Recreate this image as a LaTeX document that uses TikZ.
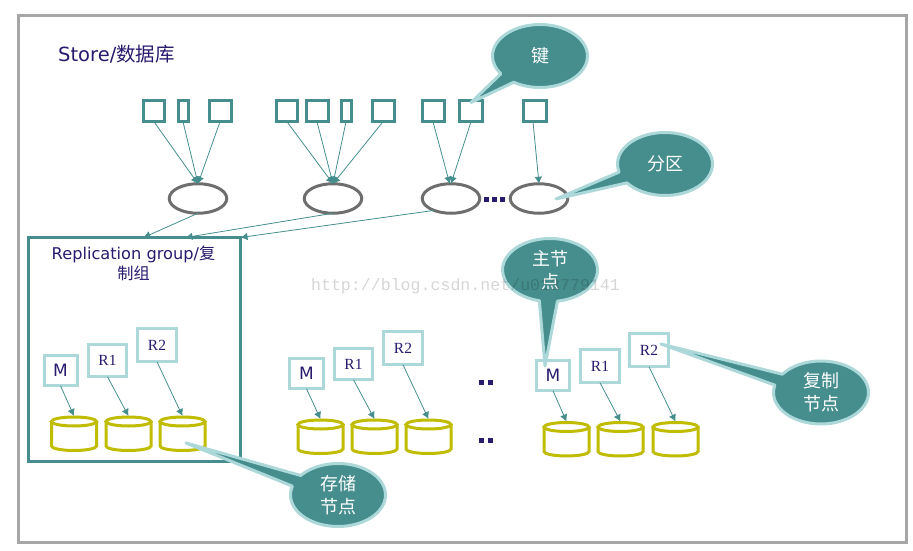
\documentclass[tikz,border=0pt]{standalone}
\usepackage{fontspec}
\setmainfont{DejaVu Sans}
\newfontfamily\cjk{Noto Sans CJK SC}
\newfontfamily\rmtext{Liberation Serif}
\newfontfamily\marktext{Liberation Mono}
\usetikzlibrary{calc}
\usetikzlibrary{arrows.meta}
\usetikzlibrary{shapes.geometric}
\usetikzlibrary{shapes.callouts}
\definecolor{teal1}{HTML}{468E8E}
\definecolor{pale1}{HTML}{ACD8DA}
\definecolor{ink1}{HTML}{2A1A6E}
\definecolor{olive1}{HTML}{C0BC00}
\begin{document}
\begin{tikzpicture}[x=1pt, y=-1pt,
    keybox/.style={draw=teal1, line width=3pt, minimum height=21.5pt, inner sep=0pt, outer sep=0pt},
    part/.style={ellipse, draw=black!57, line width=3pt, minimum width=57.5pt, minimum height=29.5pt, inner sep=0pt, outer sep=0pt},
    arr/.style={draw=teal1, line width=0.8pt, -{Latex[length=7pt, width=7.5pt]}},
    node1/.style={draw=pale1, line width=3pt, inner sep=0pt, outer sep=0pt, text=ink1, fill=white},
    note/.style={ellipse callout, draw=pale1, fill=teal1, line width=3pt, line join=round, text=white, minimum width=95pt, minimum height=63pt, inner sep=0pt, outer sep=0pt, align=center, callout pointer arc=22, font=\cjk\fontsize{18}{23}\selectfont},
    dot1/.style={fill=ink1, minimum size=5pt, inner sep=0pt, outer sep=0pt},
    disk/.pic={
      \node[inner sep=0pt, outer sep=0pt, minimum width=45pt, minimum height=36pt] (-body) at (0,0) {};
      \draw[draw=olive1, line width=3pt] (0,-12.5) ellipse [x radius=22.5, y radius=4.5];
      \draw[draw=olive1, line width=3pt] (-22.5,-12.5) -- (-22.5,12) arc [start angle=180, end angle=0, x radius=22.5, y radius=4.5] -- (22.5,-12.5);
    }]
  \useasboundingbox (0,0) rectangle (913,551);
  \node[draw=black!35, line width=3pt, minimum width=888pt, minimum height=526.5pt, anchor=north west, inner sep=0pt, outer sep=0pt] (store) at (18,15.5) {};
  \node[text=ink1, anchor=west, inner sep=0pt, font=\fontsize{19.5}{23}\selectfont] (title) at (58,54) {Store/{\cjk 数据库}};

  % keys
  \node[keybox, minimum width=21.5pt] (k1) at (154,111) {};
  \node[keybox, minimum width=10pt] (k2) at (183,111) {};
  \node[keybox, minimum width=22pt] (k3) at (220,111) {};
  \node[keybox, minimum width=21pt] (k4) at (287,111) {};
  \node[keybox, minimum width=22pt] (k5) at (317,111) {};
  \node[keybox, minimum width=10pt] (k6) at (346,111) {};
  \node[keybox, minimum width=22pt] (k7) at (383,111) {};
  \node[keybox, minimum width=22pt] (k8) at (433,111) {};
  \node[keybox, minimum width=22.5pt] (k9) at (471,111) {};
  \node[keybox, minimum width=22.5pt] (k10) at (535,111) {};

  % partitions
  \node[part] (e1) at (198,198.5) {};
  \node[part] (e2) at (333,198.5) {};
  \node[part] (e3) at (451,198.5) {};
  \node[part] (e4) at (539,198.5) {};
  \node[dot1] (d1) at (486.5,199) {};
  \node[dot1] (d2) at (494.5,199) {};
  \node[dot1] (d3) at (502.5,199) {};

  \draw[arr] (k1.south) -- (e1.north);
  \draw[arr] (k2.south) -- (e1.north);
  \draw[arr] (k3.south) -- (e1.north);
  \draw[arr] (k4.south) -- (e2.north);
  \draw[arr] (k5.south) -- (e2.north);
  \draw[arr] (k6.south) -- (e2.north);
  \draw[arr] (k7.south) -- (e2.north);
  \draw[arr] (k8.south) -- (e3.95);
  \draw[arr] (k9.south) -- (e3.north);
  \draw[arr] ($(k10.south)+(-2,0)$) -- (e4.north);

  % replication group
  \node[draw=teal1, line width=3pt, minimum width=212pt, minimum height=224pt, anchor=north west, inner sep=0pt, outer sep=0pt] (group) at (28.5,237.5) {};
  \node[text=ink1, align=center, inner sep=0pt, font=\fontsize{16.2}{19.5}\selectfont] (grouplabel) at (133.5,263.5) {Replication group/{\cjk 复}\\{\cjk 制组}};
  \draw[arr] (e1.south) -- ($(group.north west)+(115,0)$);
  \draw[arr] (e2.south) -- ($(group.north west)+(157,0)$);
  \draw[arr] (e3.215) -- (group.north east);

  % nodes and disks
  \node[node1, minimum width=33pt, minimum height=30.5pt, font=\fontsize{17}{20}\selectfont] (m1) at (60.5,370.5) {M};
  \node[node1, minimum width=38.5pt, minimum height=32.5pt, font=\rmtext\fontsize{15.5}{18}\selectfont] (r11) at (107.5,360.5) {R1};
  \node[node1, minimum width=39.5pt, minimum height=33.5pt, font=\rmtext\fontsize{15.5}{18}\selectfont] (r12) at (157,345) {R2};
  \node[node1, minimum width=34pt, minimum height=30.5pt, font=\fontsize{17}{20}\selectfont] (m2) at (306.5,373.5) {M};
  \node[node1, minimum width=38.5pt, minimum height=31.5pt, font=\rmtext\fontsize{15.5}{18}\selectfont] (r21) at (353.5,364) {R1};
  \node[node1, minimum width=39.5pt, minimum height=33.5pt, font=\rmtext\fontsize{15.5}{18}\selectfont] (r22) at (403,348) {R2};
  \node[node1, minimum width=33.5pt, minimum height=30.5pt, font=\fontsize{17}{20}\selectfont] (m3) at (553,375.5) {M};
  \node[node1, minimum width=39.5pt, minimum height=33.5pt, font=\rmtext\fontsize{15.5}{18}\selectfont] (r31) at (600,366) {R1};
  \node[node1, minimum width=39.5pt, minimum height=33.5pt, font=\rmtext\fontsize{15.5}{18}\selectfont] (r32) at (649,350) {R2};

  \pic (c11) at (74,434) {disk};
  \pic (c12) at (128.5,434) {disk};
  \pic (c13) at (182.5,434) {disk};
  \pic (c21) at (320.5,437) {disk};
  \pic (c22) at (374.5,437) {disk};
  \pic (c23) at (428.5,437) {disk};
  \pic (c31) at (566.5,439.5) {disk};
  \pic (c32) at (620.5,439.5) {disk};
  \pic (c33) at (675.5,439.5) {disk};

  \draw[arr] (m1.south) -- (c11-body.north);
  \draw[arr] (r11.south) -- (c12-body.north);
  \draw[arr] (r12.south) -- (c13-body.north);
  \draw[arr] (m2.south) -- (c21-body.north);
  \draw[arr] (r21.south) -- (c22-body.north);
  \draw[arr] (r22.south) -- (c23-body.north);
  \draw[arr] (m3.south) -- (c31-body.north);
  \draw[arr] (r31.south) -- (c32-body.north);
  \draw[arr] (r32.south) -- (c33-body.north);

  \node[dot1] (d4) at (481.5,382) {};
  \node[dot1] (d5) at (490.5,382) {};
  \node[dot1] (d6) at (481.5,440) {};
  \node[dot1] (d7) at (490.5,440) {};

  % callouts
  \node[note, callout absolute pointer={(471,102.5)}] (n1) at (540,56) {键};
  \node[note, callout absolute pointer={(556,199)}] (n2) at (665,164) {分区};
  \node[note, callout absolute pointer={(545,366)}] (n3) at (550,270) {主节\\点};
  \node[note, callout absolute pointer={(661,344)}] (n4) at (821,392.5) {复制\\节点};
  \node[note, callout absolute pointer={(186,443)}] (n5) at (338,495) {存储\\节点};

  \node[text=black, opacity=0.16, inner sep=0pt, font=\marktext\fontsize{16.6}{20}\selectfont] (mark) at (465.5,286) {http://blog.csdn.net/u013779141};
\end{tikzpicture}
\end{document}
